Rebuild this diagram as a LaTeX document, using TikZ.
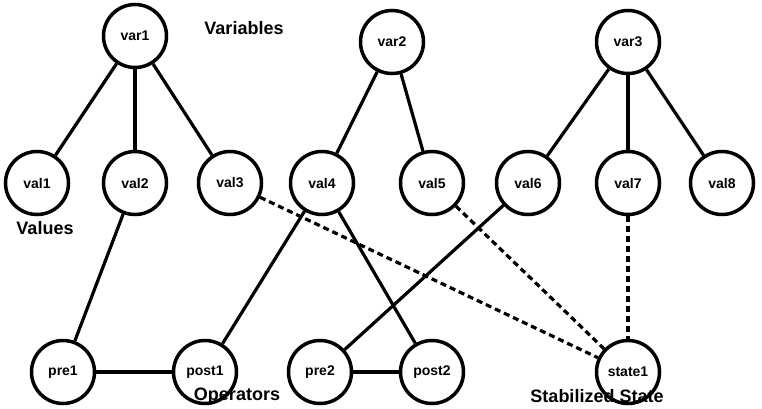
\documentclass[tikz,border=0pt]{standalone}
\usepackage{fontspec}
\setmainfont{Liberation Sans}
\begin{document}
\begin{tikzpicture}[x=1pt,y=-1pt,
  st/.style={circle,draw=black,line width=3.5pt,minimum size=63pt,inner sep=0pt,fill=white,font=\bfseries\fontsize{14}{16}\selectfont},
  lab/.style={font=\bfseries\fontsize{18}{20}\selectfont},
  e/.style={line width=3.2pt},
  d/.style={line width=3.2pt,dash pattern=on 6pt off 4pt}]
\useasboundingbox (0,0) rectangle (762,409);
\node[st] (var1) at (135,36) {var1};
\node[st] (var2) at (392,42) {var2};
\node[st] (var3) at (628,42) {var3};
\node[st] (val1) at (37,183) {val1};
\node[st] (val2) at (135,183) {val2};
\node[st] (val3) at (230,183) {val3};
\node[st] (val4) at (322,183) {val4};
\node[st] (val5) at (432,183) {val5};
\node[st] (val6) at (528,183) {val6};
\node[st] (val7) at (628,183) {val7};
\node[st] (val8) at (722,183) {val8};
\node[st] (pre1) at (63,372) {pre1};
\node[st] (post1) at (205,372) {post1};
\node[st] (pre2) at (320,372) {pre2};
\node[st] (post2) at (432,372) {post2};
\node[st] (state1) at (628,372) {state1};
\foreach \a/\b in {var1/val1,var1/val2,var1/val3,var2/val4,var2/val5,var3/val6,var3/val7,var3/val8,val2/pre1,pre1/post1,val4/post1,val4/post2,val6/pre2,pre2/post2}
  \draw[e] (\a) -- (\b);
\foreach \a in {val3,val5,val7}
  \draw[d] (\a) -- (state1);
\node[lab] (lv) at (244,28) {Variables};
\node[lab] (lval) at (45,228) {Values};
\node[lab] (lo) at (237,396) {Operators};
\node[lab] (ls) at (597,396) {Stabilized State};
\end{tikzpicture}
\end{document}
